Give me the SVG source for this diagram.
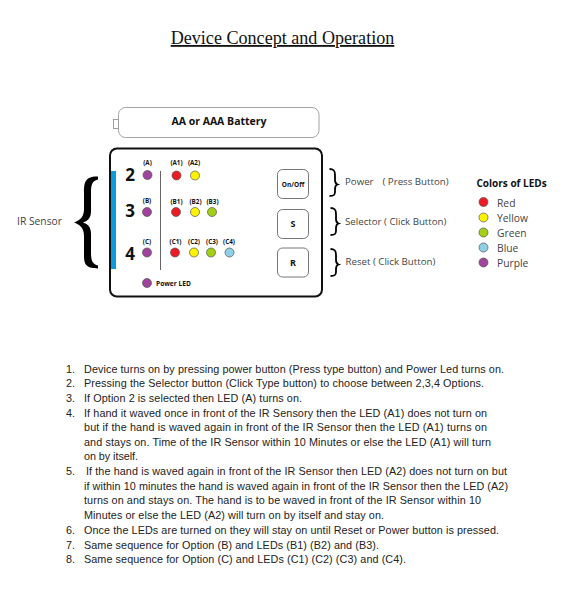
<svg xmlns="http://www.w3.org/2000/svg" width="575" height="604" viewBox="0 0 575 604">
<style>
.s{font-family:"Open Sans","Noto Sans",sans-serif}
.b{font-family:"Open Sans","Noto Sans",sans-serif;font-weight:700;fill:#111}
.l{font-size:6.300px;text-anchor:middle}
.n{font-size:17px;text-anchor:middle}
.t{font-size:9.700px;fill:#444}
.v{font-size:10.300px;fill:#444}
.k{font-family:"Liberation Sans",Arial,sans-serif;font-size:10.800px;fill:#222}
.btn{fill:#fff;stroke:#777;stroke-width:1}
.r{fill:#ed1c24}.y{fill:#fff200}.g{fill:#a3d017}.c{fill:#8fd0e6}.p{fill:#a0439c}
circle{stroke:#555;stroke-width:.7}
.brace{fill:none;stroke:#000;stroke-width:1.800}
</style>
<rect width="575" height="604" fill="#fff"/>
<g id="title"><text x="282.500" y="44" text-anchor="middle" font-family="'Liberation Serif',serif" font-size="18.100" fill="#111" text-decoration="underline">Device Concept and Operation</text></g>
<g id="battery">
<rect x="113.500" y="119.500" width="5" height="9" fill="#fff" stroke="#888" stroke-width=".8"/>
<rect x="118.500" y="107.500" width="200.500" height="30" rx="7" fill="#fff" stroke="#999" stroke-width=".9"/>
<text x="219" y="125" class="b" font-size="10.500" text-anchor="middle">AA or AAA Battery</text>
</g>
<g id="device">
<rect x="110" y="148.500" width="212" height="148" rx="7" fill="#fff" stroke="#111" stroke-width="2"/>
<rect x="111" y="171" width="5" height="98" fill="#0b9bdc"/>
<line x1="160.500" y1="171" x2="160.500" y2="270" stroke="#555" stroke-width=".9"/>
</g>
<g id="options">
<text x="130" y="181" class="b n">2</text><text x="130" y="217" class="b n">3</text><text x="130" y="260" class="b n">4</text>
<text x="147.500" y="165" class="b l">(A)</text><circle cx="147.500" cy="175" r="4.500" class="p"/>
<text x="147" y="203" class="b l">(B)</text><circle cx="147" cy="212" r="4.500" class="p"/>
<text x="147" y="244" class="b l">(C)</text><circle cx="147" cy="252.500" r="4.500" class="p"/>
</g>
<g id="leds-a">
<text x="176.500" y="165" class="b l">(A1)</text><text x="194" y="165" class="b l">(A2)</text>
<circle cx="176.500" cy="175.500" r="4.500" class="r"/><circle cx="195" cy="175.500" r="4.500" class="y"/>
</g>
<g id="leds-b">
<text x="176.500" y="204" class="b l">(B1)</text><text x="195.500" y="204" class="b l">(B2)</text><text x="212.500" y="204" class="b l">(B3)</text>
<circle cx="176" cy="212" r="4.500" class="r"/><circle cx="195" cy="212" r="4.500" class="y"/><circle cx="212" cy="212" r="4.500" class="g"/>
</g>
<g id="leds-c">
<text x="175.500" y="244" class="b l">(C1)</text><text x="194" y="244" class="b l">(C2)</text><text x="212" y="244" class="b l">(C3)</text><text x="229" y="244" class="b l">(C4)</text>
<circle cx="175" cy="252.500" r="4.500" class="r"/><circle cx="194" cy="252.500" r="4.500" class="y"/><circle cx="211" cy="252.500" r="4.500" class="g"/><circle cx="229.500" cy="252.500" r="4.500" class="c"/>
</g>
<g id="power-led"><circle cx="147" cy="283" r="4.500" class="p"/><text x="156" y="286" class="b" font-size="6.600">Power LED</text></g>
<g id="btn-onoff"><rect x="277.500" y="169.500" width="31" height="29" rx="5" class="btn"/><text x="293" y="187" class="b" font-size="6.500" text-anchor="middle">On/Off</text></g>
<g id="btn-s"><rect x="277.500" y="209.500" width="31" height="29" rx="5" class="btn"/><text x="293" y="227" class="b" font-size="9" text-anchor="middle">S</text></g>
<g id="btn-r"><rect x="277.500" y="248" width="31" height="29" rx="5" class="btn"/><text x="293" y="266" class="b" font-size="9" text-anchor="middle">R</text></g>
<g id="ir-sensor">
<text x="17" y="225" class="s" font-size="10.300" fill="#444">IR Sensor</text>
<path d="M98 176.500C85 176 84 183 84 192L84 209C84 216 81 220 74 222.500C81 225 84 229 84 236L84 254C84 264 85 268 98 268.500L98 265.500C92 264 91 260 91 252L91 234C91 227 88 224 83 222.500C88 221 91 218 91 211L91 193C91 185 92 181 98 179.500Z" fill="#000"/>
</g>
<g id="connectors">
<path class="brace" d="M329.500 169C334 169 335 171 335 175L335 180C335 183 336 184 337.500 184.500C336 185 335 186 335 189L335 192C335 195 334 196 329.500 196"/>
<path class="brace" d="M330.500 208C335 208 336 210 336 214L336 219C336 222 337 223 338.500 223.500C337 224 336 225 336 228L336 231C336 234 335 235 330.500 235"/>
<path class="brace" d="M330.500 249C335 249 336 251 336 255L336 260C336 263 337 264 338.500 264.500C337 265 336 266 336 269L336 272C336 275 335 276 330.500 276"/>
</g>
<g id="label-power"><text x="345" y="185" class="s t">Power</text><text x="382.500" y="185" class="s t">( Press Button)</text></g>
<g id="label-selector"><text x="345" y="225" class="s t">Selector ( Click Button)</text></g>
<g id="label-reset"><text x="345.500" y="265" class="s t">Reset ( Click Button)</text></g>
<g id="legend">
<text x="476.500" y="187" class="b" font-size="10">Colors of LEDs</text>
<circle cx="483.500" cy="202" r="4.500" class="r"/><text x="497" y="206.500" class="s v">Red</text>
<circle cx="483.500" cy="217.500" r="4.500" class="y"/><text x="497" y="221.500" class="s v">Yellow</text>
<circle cx="483.500" cy="232.500" r="4.500" class="g"/><text x="497" y="236.500" class="s v">Green</text>
<circle cx="483.500" cy="247.500" r="4.500" class="c"/><text x="497" y="251.500" class="s v">Blue</text>
<circle cx="483.500" cy="262.500" r="4.500" class="p"/><text x="497" y="266.500" class="s v">Purple</text>
</g>
<g id="steps">
<text x="66" y="373" class="k">1.</text><text x="84" y="373" class="k" textLength="420">Device turns on by pressing power button (Press type button) and Power Led turns on.</text>
<text x="66" y="387" class="k">2.</text><text x="84" y="387" class="k" textLength="400">Pressing the Selector button (Click Type button) to choose between 2,3,4 Options.</text>
<text x="66" y="402" class="k">3.</text><text x="84" y="402" class="k" textLength="218">If Option 2 is selected then LED (A) turns on.</text>
<text x="66" y="417" class="k">4.</text><text x="84" y="417" class="k" textLength="403">If hand it waved once in front of the IR Sensory then the LED (A1) does not turn on</text>
<text x="84" y="431" class="k" textLength="403">but if the hand is waved again in front of the IR Sensor then the LED (A1) turns on</text>
<text x="84" y="446" class="k" textLength="407">and stays on. Time of the IR Sensor within 10 Minutes or else the LED (A1) will turn</text>
<text x="84" y="460" class="k" textLength="54">on by itself.</text>
<text x="66" y="475" class="k">5.</text><text x="86" y="475" class="k" textLength="421">If the hand is waved again in front of the IR Sensor then LED (A2) does not turn on but</text>
<text x="84" y="490" class="k" textLength="424">if within 10 minutes the hand is waved again in front of the IR Sensor then the LED (A2)</text>
<text x="84" y="504" class="k" textLength="397">turns on and stays on. The hand is to be waved in front of the IR Sensor within 10</text>
<text x="84" y="519" class="k" textLength="300">Minutes or else the LED (A2) will turn on by itself and stay on.</text>
<text x="66" y="534" class="k">6.</text><text x="84" y="534" class="k" textLength="415">Once the LEDs are turned on they will stay on until Reset or Power button is pressed.</text>
<text x="66" y="549" class="k">7.</text><text x="84" y="549" class="k" textLength="295">Same sequence for Option (B) and LEDs (B1) (B2) and (B3).</text>
<text x="66" y="563" class="k">8.</text><text x="84" y="563" class="k" textLength="322">Same sequence for Option (C) and LEDs (C1) (C2) (C3) and (C4).</text>
</g>
</svg>
